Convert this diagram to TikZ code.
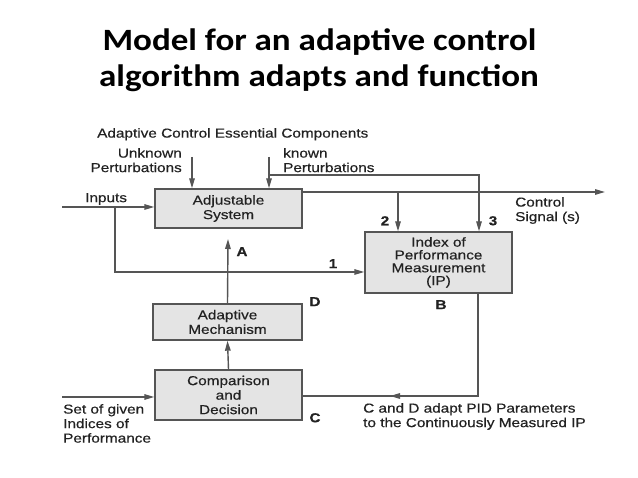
\documentclass[tikz,border=0pt]{standalone}
\usepackage{fontspec}
\setmainfont{Liberation Sans}[FakeStretch=1.18,FakeBold=0.4]
\newfontfamily\titlefont{Carlito}[FakeStretch=1.13]
\usetikzlibrary{arrows.meta}
\definecolor{linegray}{HTML}{555555}
\definecolor{boxfill}{HTML}{E4E4E4}
\definecolor{txtgray}{HTML}{222222}
\tikzset{
  blk/.style={draw=linegray,fill=boxfill,line width=1.4pt,align=center,inner sep=0pt,
    text=txtgray,font=\fontsize{13}{14.5}\selectfont},
  lbl/.style={inner sep=0pt,text=txtgray,font=\fontsize{13}{14.5}\selectfont},
  ttl/.style={inner sep=0pt,anchor=base,font=\titlefont\bfseries\fontsize{31}{36}\selectfont},
  wire/.style={draw=linegray,line width=1.4pt},
  arr/.style={wire,-{Triangle[length=10pt,width=5.5pt]}}
}
\begin{document}
\begin{tikzpicture}[x=1pt,y=-1pt]
\useasboundingbox[fill=white] (0,0) rectangle (638,478);
\node[ttl] (title1) at (319.5,51) {Model for an adaptive control};
\node[ttl] (title2) at (319,87) {algorithm adapts and function};
% blocks
\node[blk,minimum width=147pt,minimum height=39pt] (adj) at (228.5,208.5) {Adjustable\\System};
\node[blk,minimum width=147pt,minimum height=61pt,font=\fontsize{13}{12.8}\selectfont] (ip) at (438.5,262.5) {Index of\\Performance\\Measurement\\(IP)};
\node[blk,minimum width=149pt,minimum height=36pt] (mech) at (227.5,322) {Adaptive\\Mechanism};
\node[blk,minimum width=147pt,minimum height=50pt] (cmp) at (228.5,395) {Comparison\\and\\Decision};
% labels
\node[lbl,anchor=north west] (head) at (97,128) {Adaptive Control Essential Components};
\node[lbl,anchor=north east,align=right] (unk) at (182,148) {Unknown\\Perturbations};
\node[lbl,anchor=north west,align=left] (kno) at (283,148) {known\\Perturbations};
\node[lbl,anchor=north west] (inp) at (85,193) {Inputs};
\node[lbl,anchor=north west,align=left] (ctrl) at (515,197) {Control\\Signal (s)};
\node[lbl,anchor=north west,align=left] (cd) at (363,403) {C and D adapt PID Parameters\\to the Continuously Measured IP};
\node[lbl,anchor=north west,align=left] (sgt) at (63,404) {Set of given\\Indices of\\Performance};
\foreach \t/\x/\y in {1/333/259, 2/385/216, 3/493/216, A/242/247, B/441/300, C/315/413, D/315/297}
  \node[lbl,font=\bfseries\fontsize{13}{14.5}\selectfont,anchor=north] (n\t) at (\x,\y) {\t};
% free ends
\coordinate (u) at (192,157);
\coordinate (k) at (269,157);
\coordinate (kb) at (269,175);
\coordinate (kc) at (479,175);
\coordinate (in) at (62,207);
\coordinate (br) at (115,207);
\coordinate (brd) at (115,272);
\coordinate (out) at (605,192);
\coordinate (o2) at (398,192);
\coordinate (fb) at (478,396);
\coordinate (fbm) at (390,396);
\coordinate (atip) at (228,239);
\coordinate (sg) at (62,397);
% connectors
\draw[arr] (u) -- (u |- adj.north);
\draw[arr] (k) -- (k |- adj.north);
\draw[arr] (kb) -- (kc) -- (kc |- ip.north);
\draw[arr] (in) -- (adj.west |- in);
\draw[arr] (br) -- (brd) -- (ip.west |- brd);
\draw[arr] (adj.east |- out) -- (out);
\draw[arr] (o2) -- (o2 |- ip.north);
\draw[wire] (fb |- ip.south) -- (fb) -- (cmp.east |- fb);
\draw[arr] (fb) -- (fbm);
\draw[arr] (mech.north) -- (atip);
\draw[arr] (cmp.north) -- (mech.south);
\draw[arr] (sg) -- (cmp.west |- sg);
\end{tikzpicture}
\end{document}
